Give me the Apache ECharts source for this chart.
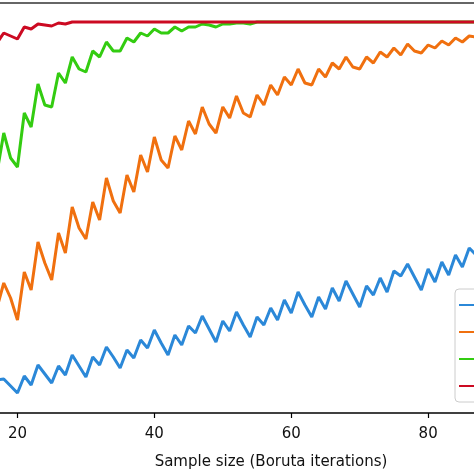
<!DOCTYPE html>
<html>
<head>
<meta charset="utf-8">
<script src="https://cdn.jsdelivr.net/npm/echarts@6/dist/echarts.min.js"></script>
<style>html,body{margin:0;padding:0;background:#fff}#chart{width:474px;height:474px}</style>
</head>
<body>
<div id="chart"></div>
<script>
// sample sizes (Boruta iterations)
const iterations = [];
for (let i = 17; i <= 87; i++) iterations.push(i);

const xTicks = [20, 40, 60, 80];
const seriesNames = ["p = 0.001", "p = 0.01", "p = 0.05", "p = 0.1"];

// selected features, one value per iteration 17..87
const blueVals = [33, 34, 27, 20, 37, 28, 48, 39, 30, 47, 38, 58, 47, 36, 56, 48, 66, 56, 45, 63,
  55, 73, 65, 83, 70, 58, 78, 68, 87, 80, 97, 84, 71, 92, 82, 101, 88, 76, 96, 88,
  105, 93, 113, 100, 121, 108, 96, 116, 104, 125, 112, 132, 119, 106, 127, 118, 135, 121, 142, 137,
  149, 136, 123, 144, 131, 151, 138, 158, 146, 165, 158];
const orangeVals = [105, 130, 115, 93, 141, 123, 171, 150, 133, 180, 160, 206, 185, 174, 211, 193, 235, 212, 200, 238,
  221, 258, 241, 276, 253, 245, 277, 263, 292, 279, 306, 289, 280, 306, 295, 317, 300, 296, 318, 308,
  328, 318, 336, 328, 344, 330, 328, 344, 336, 350, 344, 356, 346, 344, 356, 350, 361, 356, 365, 358,
  369, 362, 360, 368, 365, 372, 368, 375, 371, 377, 376];
const greenVals = [240, 280, 255, 246, 300, 286, 329, 308, 306, 340, 330, 356, 344, 341, 362, 356, 371, 362, 362, 375,
  371, 380, 377, 384, 380, 380, 386, 382, 386, 386, 389, 388, 386, 389, 389, 390, 390, 389, 391, 391,
  391, 391, 391, 391, 391, 391, 391, 391, 391, 391, 391, 391, 391, 391, 391, 391, 391, 391, 391, 391,
  391, 391, 391, 391, 391, 391, 391, 391, 391, 391, 391];
const redVals = [370, 380, 377, 374, 386, 384, 389, 388, 387, 390, 389, 391, 391, 391, 391, 391, 391, 391, 391, 391,
  391, 391, 391, 391, 391, 391, 391, 391, 391, 391, 391, 391, 391, 391, 391, 391, 391, 391, 391, 391,
  391, 391, 391, 391, 391, 391, 391, 391, 391, 391, 391, 391, 391, 391, 391, 391, 391, 391, 391, 391,
  391, 391, 391, 391, 391, 391, 391, 391, 391, 391, 391];

const colors = ["#2b88d8", "#f0700f", "#33cc11", "#cc0a22"];
const allVals = [blueVals, orangeVals, greenVals, redVals];

const chart = echarts.init(document.getElementById("chart"));

const series = allVals.map((vals, i) => ({
  name: seriesNames[i],
  type: "line",
  data: vals.map((v, j) => [iterations[j], v]),
  showSymbol: false,
  lineStyle: { color: colors[i], width: 3 },
  itemStyle: { color: colors[i] },
  z: 2 + i,
  animation: false,
}));

chart.setOption({
  animation: false,
  grid: { left: 0, right: 0, top: 3, bottom: 61 },
  xAxis: {
    type: "value",
    min: 17.45,
    max: 86.7,
    axisLine: { lineStyle: { color: "#000", width: 1.5 } },
    axisTick: { length: 5, lineStyle: { color: "#000", width: 1.2 }, customValues: xTicks },
    axisLabel: {
      customValues: xTicks,
      color: "#111",
      fontFamily: "DejaVu Sans",
      fontSize: 15,
      margin: 14,
    },
    splitLine: { show: false },
  },
  yAxis: { type: "value", min: 0, max: 410, show: false, splitLine: { show: false } },
  legend: {
    orient: "vertical",
    left: 455,
    top: 289,
    itemWidth: 22,
    itemHeight: 10,
    itemGap: 13,
    padding: [9, 6, 9, 4],
    backgroundColor: "#fff",
    borderColor: "#ccc",
    borderWidth: 1,
    borderRadius: 4,
    icon: "path://M0,4 L22,4 L22,6 L0,6 Z",
    textStyle: { fontFamily: "DejaVu Sans", fontSize: 14, color: "#111" },
    data: seriesNames,
  },
  graphic: [
    { type: "line", shape: { x1: 0, y1: 3, x2: 474, y2: 3 }, style: { stroke: "#333", lineWidth: 1.5 } },
    {
      type: "text", x: 271, y: 462,
      style: {
        text: "Sample size (Boruta iterations)",
        fontFamily: "DejaVu Sans", fontSize: 15, fill: "#111",
        textAlign: "center", textVerticalAlign: "middle",
      },
    },
  ],
  series: series,
});
</script>
</body>
</html>
